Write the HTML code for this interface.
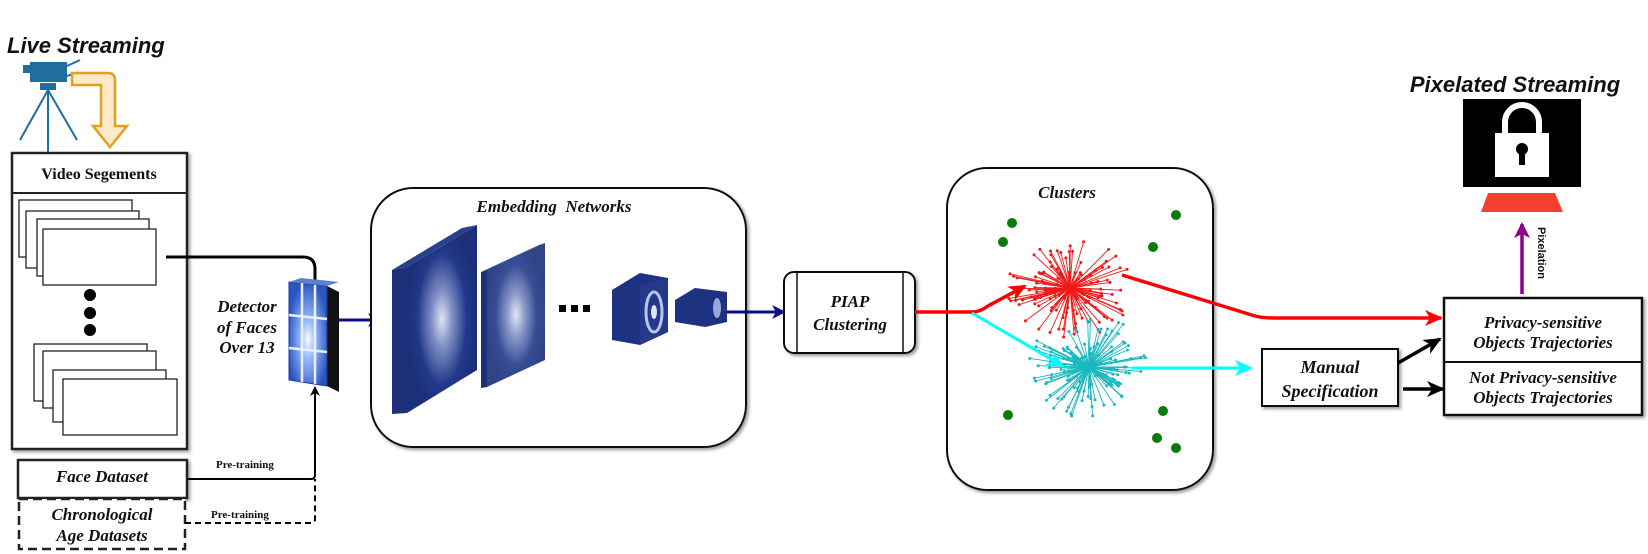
<!DOCTYPE html>
<html><head><meta charset="utf-8"><style>
html,body{margin:0;padding:0;background:#fff;}
svg{display:block}
.sb{font-family:"Liberation Serif",serif;font-weight:bold;font-style:italic;fill:#111;}
.ss{font-family:"Liberation Sans",sans-serif;font-weight:bold;font-style:italic;fill:#111;}
</style></head><body>
<svg id="s" width="1648" height="554" viewBox="0 0 1648 554" xmlns="http://www.w3.org/2000/svg">
<defs>
<marker id="ab" markerWidth="10" markerHeight="10" refX="8" refY="5" orient="auto" markerUnits="userSpaceOnUse"><path d="M0,0 L10,5 L0,10 L3,5 z" fill="#000"/></marker>
<marker id="abl" markerWidth="14" markerHeight="14" refX="12" refY="7" orient="auto" markerUnits="userSpaceOnUse"><path d="M0,0 L14,7 L0,14 L4,7 z" fill="#0a0a8a"/></marker>
<marker id="ar" markerWidth="18" markerHeight="16" refX="16" refY="8" orient="auto" markerUnits="userSpaceOnUse"><path d="M0,0 L18,8 L0,16 L5,8 z" fill="#f00"/></marker>
<marker id="ac" markerWidth="18" markerHeight="16" refX="16" refY="8" orient="auto" markerUnits="userSpaceOnUse"><path d="M0,0 L18,8 L0,16 L5,8 z" fill="#0ff"/></marker>
<marker id="ak" markerWidth="18" markerHeight="16" refX="16" refY="8" orient="auto" markerUnits="userSpaceOnUse"><path d="M0,0 L18,8 L0,16 L5,8 z" fill="#000"/></marker>
<marker id="ap" markerWidth="16" markerHeight="18" refX="14" refY="8" orient="auto" markerUnits="userSpaceOnUse"><path d="M0,0 L16,8 L0,16 L4,8 z" fill="#8b008b"/></marker>
<radialGradient id="glow" cx="50%" cy="50%" r="50%"><stop offset="0" stop-color="#dfe4f4"/><stop offset="0.3" stop-color="#7f8fc4"/><stop offset="0.7" stop-color="#22398a"/><stop offset="1" stop-color="#1b2f7a"/></radialGradient>
<radialGradient id="glass" cx="50%" cy="55%" r="55%"><stop offset="0" stop-color="#ffffff"/><stop offset="0.3" stop-color="#9fc0ff"/><stop offset="1" stop-color="#2a55c0"/></radialGradient>
<filter id="sh"><feDropShadow dx="2" dy="2" stdDeviation="1.5" flood-color="#999"/></filter>
</defs>

<text x="7" y="53" class="ss" font-size="22">Live Streaming</text>
<g fill="#1f6e9c" stroke="#1f6e9c">
<rect x="23" y="65" width="7" height="8" stroke="none"/>
<rect x="30" y="62" width="37" height="20" stroke="none"/>
<rect x="40" y="83" width="16" height="7" stroke="none"/>
<path d="M67,66 L80,60 M67,76 L76,73" stroke-width="2" fill="none"/>
<line x1="48" y1="90" x2="20" y2="140" stroke-width="2"/>
<line x1="48" y1="90" x2="77" y2="140" stroke-width="2"/>
<line x1="48" y1="90" x2="48" y2="152" stroke-width="2"/>
</g>
<path d="M72,73 L108,73 Q115,73 115,80 L115,126 L127,126 L110,147 L93,126 L101,126 L101,85 L72,85 z" fill="#fde8c8" stroke="#e0a020" stroke-width="2.5"/>

<rect x="12" y="153" width="175" height="296" fill="#fff" stroke="#222" stroke-width="2.5" filter="url(#sh)"/>
<line x1="12" y1="193" x2="187" y2="193" stroke="#222" stroke-width="2"/>
<text x="99" y="179" class="sb" font-size="16" text-anchor="middle" style="font-style:normal">Video Segements</text>
<g fill="#fff" stroke="#222" stroke-width="1.3">
<rect x="19" y="200" width="113" height="57"/><rect x="26" y="211" width="113" height="57"/><rect x="37" y="219" width="112" height="57"/><rect x="43" y="229" width="113" height="56"/>
<rect x="34" y="344" width="113" height="57"/><rect x="43" y="351" width="113" height="57"/><rect x="53" y="370" width="113" height="52"/><rect x="63" y="379" width="114" height="56"/>
</g>
<circle cx="90" cy="295" r="6"/><circle cx="90" cy="313" r="6"/><circle cx="90" cy="330" r="6"/>

<path d="M166,257 L303,257 Q315,257 315,269 L315,292" fill="none" stroke="#000" stroke-width="3" marker-end="url(#ab)"/>

<polygon points="327,286 339,292 339,392 327,386" fill="#111"/>
<polygon points="289,282 327,286 327,386 289,380" fill="url(#glass)" stroke="#1a3a9a" stroke-width="1"/>
<polygon points="289,282 301,278 339,282 327,286" fill="#5a80d0"/>
<g stroke="#e8f0ff" stroke-width="2.5">
<line x1="302" y1="283" x2="302" y2="382"/><line x1="315" y1="285" x2="315" y2="384"/>
<line x1="289" y1="315" x2="327" y2="319"/><line x1="289" y1="348" x2="327" y2="352"/>
</g>
<text class="sb" font-size="17" text-anchor="middle"><tspan x="247" y="312">Detector</tspan><tspan x="247" y="333">of Faces</tspan><tspan x="247" y="353">Over 13</tspan></text>
<line x1="339" y1="320" x2="380" y2="320" stroke="#0a0a8a" stroke-width="3" marker-end="url(#abl)"/>

<rect x="18" y="460" width="169" height="38" fill="#fff" stroke="#222" stroke-width="2.5" filter="url(#sh)"/>
<text x="102" y="482" class="sb" font-size="17" text-anchor="middle">Face Dataset</text>
<rect x="19" y="499" width="166" height="50" fill="#fff" stroke="#222" stroke-width="2.5" stroke-dasharray="9,5"/>
<text class="sb" font-size="17" text-anchor="middle"><tspan x="102" y="520">Chronological</tspan><tspan x="102" y="541">Age Datasets</tspan></text>
<path d="M187,479 L311,479 Q315,479 315,475 L315,388" fill="none" stroke="#000" stroke-width="2" marker-end="url(#ab)"/>
<path d="M185,523 L311,523 Q315,523 315,519 L315,479" fill="none" stroke="#000" stroke-width="2" stroke-dasharray="6,4"/>
<text x="216" y="468" class="sb" font-size="11" style="font-style:normal">Pre-training</text>
<text x="211" y="518" class="sb" font-size="11" style="font-style:normal">Pre-training</text>

<rect x="371" y="188" width="375" height="259" rx="42" fill="#fff" stroke="#111" stroke-width="2" filter="url(#sh)"/>
<text x="554" y="212" class="sb" font-size="17" text-anchor="middle">Embedding&#160; Networks</text>
<polygon points="392,270 407,267 407,413 392,414" fill="#1c2f78"/>
<polygon points="392,270 462,228 477,225 407,267" fill="#2a3f8a"/>
<polygon points="407,267 477,225 477,370 407,413" fill="url(#glow)"/>
<polygon points="481,272 487,270 487,387 481,388" fill="#1c2f78"/>
<polygon points="481,272 539,245 545,243 487,270" fill="#2a3f8a"/>
<polygon points="487,270 545,243 545,360 487,387" fill="url(#glow)" opacity="0.9"/>
<rect x="559" y="305" width="7" height="7"/><rect x="571" y="305" width="7" height="7"/><rect x="583" y="305" width="7" height="7"/>
<polygon points="612,290 640,273 668,278 668,332 640,345 612,340" fill="#1d3280"/>
<polygon points="640,285 668,278 668,332 640,345" fill="#24398a"/>
<ellipse cx="654" cy="312" rx="8" ry="20" fill="none" stroke="#b8c4e8" stroke-width="3"/>
<ellipse cx="654" cy="312" rx="3" ry="7" fill="#dde4f5"/>
<polygon points="675,300 695,288 727,292 727,322 705,327 675,322" fill="#1d3280"/>
<ellipse cx="717" cy="308" rx="4" ry="10" fill="#9aa8d8"/>
<line x1="727" y1="312" x2="784" y2="312" stroke="#0a0a8a" stroke-width="3" marker-end="url(#abl)"/>

<rect x="784" y="272" width="131" height="81" rx="10" fill="#fff" stroke="#111" stroke-width="2" filter="url(#sh)"/>
<line x1="797" y1="272" x2="797" y2="353" stroke="#111" stroke-width="1.5"/>
<line x1="903" y1="272" x2="903" y2="353" stroke="#111" stroke-width="1.5"/>
<text class="sb" font-size="17" text-anchor="middle"><tspan x="850" y="307">PIAP</tspan><tspan x="850" y="330">Clustering</tspan></text>

<rect x="947" y="168" width="266" height="322" rx="40" fill="#fff" stroke="#111" stroke-width="2" filter="url(#sh)"/>
<text x="1067" y="198" class="sb" font-size="17" text-anchor="middle">Clusters</text>
<g id="rays"></g>
<g fill="#0a7a0a">
<circle cx="1012" cy="223" r="5"/><circle cx="1003" cy="242" r="5"/><circle cx="1176" cy="215" r="5"/><circle cx="1153" cy="247" r="5"/>
<circle cx="1008" cy="415" r="5"/><circle cx="1163" cy="411" r="5"/><circle cx="1157" cy="438" r="5"/><circle cx="1176" cy="448" r="5"/>
</g>
<path d="M915,312 L972,312 Q980,312 988,306 L1025,286" fill="none" stroke="#f00" stroke-width="3.5" marker-end="url(#ar)"/>
<path d="M972,313 L1063,366" fill="none" stroke="#0ff" stroke-width="3" marker-end="url(#ac)"/>
<path d="M1122,275 L1255,316 Q1262,318 1275,318 L1441,318" fill="none" stroke="#f00" stroke-width="3.5" marker-end="url(#ar)"/>
<line x1="1132" y1="368" x2="1251" y2="368" stroke="#0ff" stroke-width="3" marker-end="url(#ac)"/>

<rect x="1262" y="349" width="136" height="57" fill="#fff" stroke="#111" stroke-width="2" filter="url(#sh)"/>
<text class="sb" font-size="18" text-anchor="middle"><tspan x="1330" y="373">Manual</tspan><tspan x="1330" y="397">Specification</tspan></text>
<line x1="1398" y1="363" x2="1440" y2="339" stroke="#000" stroke-width="3.5" marker-end="url(#ak)"/>
<line x1="1403" y1="389" x2="1443" y2="389" stroke="#000" stroke-width="3.5" marker-end="url(#ak)"/>

<rect x="1444" y="298" width="198" height="117" fill="#fff" stroke="#111" stroke-width="2.5" filter="url(#sh)"/>
<line x1="1444" y1="362" x2="1642" y2="362" stroke="#111" stroke-width="2"/>
<text class="sb" font-size="17" text-anchor="middle"><tspan x="1543" y="328">Privacy-sensitive</tspan><tspan x="1543" y="348">Objects Trajectories</tspan><tspan x="1543" y="383">Not Privacy-sensitive</tspan><tspan x="1543" y="403">Objects Trajectories</tspan></text>

<line x1="1522" y1="294" x2="1522" y2="224" stroke="#8b008b" stroke-width="3.5" marker-end="url(#ap)"/>
<text x="0" y="0" class="ss" font-size="11" style="font-style:normal" transform="translate(1538,227) rotate(90)">Pixelation</text>
<text x="1515" y="92" class="ss" font-size="22" text-anchor="middle">Pixelated Streaming</text>
<rect x="1463" y="99" width="118" height="88" fill="#000"/>
<path d="M1505,133 L1505,122 A17,17 0 0 1 1539,122 L1539,133" fill="none" stroke="#fff" stroke-width="6"/>
<rect x="1495" y="133" width="54" height="44" fill="#fff"/>
<circle cx="1522" cy="149" r="6" fill="#000"/>
<rect x="1519" y="150" width="6" height="15" fill="#000"/>
<polygon points="1488,193 1555,193 1563,212 1481,212" fill="#f44030"/>
</svg>
<script>
(function(){
 var g=document.getElementById('rays'),ns='http://www.w3.org/2000/svg',seed=7;
 function r(){seed=(seed*9301+49297)%233280;return seed/233280;}
 function burst(cx,cy,col,n){
  for(var i=0;i<n;i++){var a=r()*Math.PI*2,d=12+r()*48;var x=cx+Math.cos(a)*d*1.05,y=cy+Math.sin(a)*d*0.85;
   var l=document.createElementNS(ns,'line');l.setAttribute('x1',cx);l.setAttribute('y1',cy);l.setAttribute('x2',x);l.setAttribute('y2',y);
   l.setAttribute('stroke',col);l.setAttribute('stroke-width','0.9');g.appendChild(l);
   var c=document.createElementNS(ns,'circle');c.setAttribute('cx',x);c.setAttribute('cy',y);c.setAttribute('r','1.5');c.setAttribute('fill',col);g.appendChild(c);}
 }
 burst(1070,288,'#f01818',130);
 burst(1089,367,'#18b8c0',130);
})();
</script>
</body></html>
